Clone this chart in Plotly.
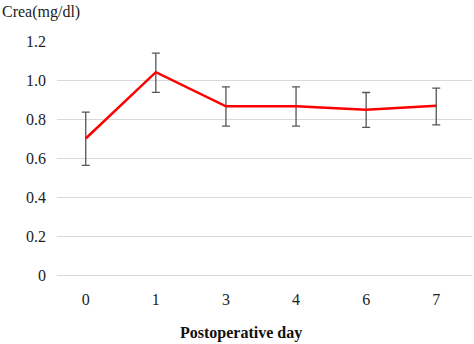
import plotly.graph_objects as go

days = ["0", "1", "3", "4", "6", "7"]
crea_mean = [0.70, 1.04, 0.865, 0.865, 0.847, 0.868]
err_upper = [0.835, 1.138, 0.965, 0.965, 0.936, 0.958]
err_lower = [0.562, 0.937, 0.763, 0.763, 0.757, 0.770]

plus = [u - m for u, m in zip(err_upper, crea_mean)]
minus = [m - l for m, l in zip(crea_mean, err_lower)]

FONT = "Liberation Serif"

fig = go.Figure()
fig.add_trace(go.Scatter(
    x=days, y=crea_mean, mode="lines",
    line=dict(color="#ff0000", width=2.5),
    error_y=dict(type="data", symmetric=False, array=plus, arrayminus=minus,
                 color="#555555", thickness=1.3, width=4),
    showlegend=False,
))

fig.update_layout(
    width=474, height=344,
    margin=dict(l=57, r=2, t=41, b=69),
    paper_bgcolor="white", plot_bgcolor="white",
    font=dict(family=FONT, size=16, color="#222222"),
    xaxis=dict(type="category", range=[-0.41, 5.51], showgrid=False,
               showline=False, zeroline=False, ticks="", ticklabelstandoff=13,
               tickfont=dict(family=FONT, size=16, color="#222222")),
    yaxis=dict(range=[0, 1.2], tickvals=[0, 0.2, 0.4, 0.6, 0.8, 1.0, 1.2],
               ticktext=["0", "0.2", "0.4", "0.6", "0.8", "1.0", "1.2"],
               showgrid=True, gridcolor="#d9d9d9", gridwidth=1,
               zeroline=True, zerolinecolor="#d9d9d9", zerolinewidth=1,
               showline=False, ticks="", ticklabelstandoff=10,
               tickfont=dict(family=FONT, size=16, color="#222222")),
    annotations=[
        dict(text="Crea(mg/dl)", xref="paper", yref="paper", x=0, y=1,
             xanchor="left", yanchor="middle", xshift=-57, yshift=29,
             showarrow=False, font=dict(family=FONT, size=16, color="#222222")),
        dict(text="<b>Postoperative day</b>", xref="paper", yref="paper", x=0, y=0,
             xanchor="center", yanchor="middle", xshift=184, yshift=-58,
             showarrow=False, font=dict(family=FONT, size=16, color="#111111")),
    ],
)

fig.write_html("out.html")
